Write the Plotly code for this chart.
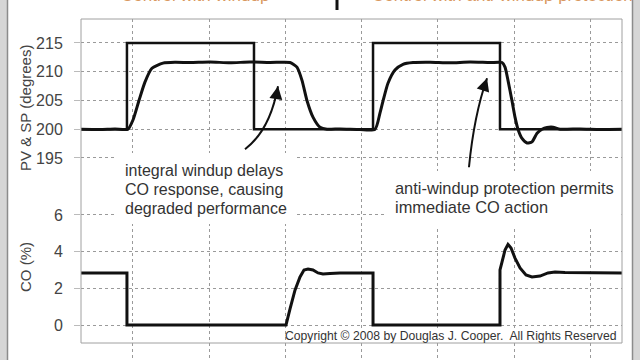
import plotly.graph_objects as go

# ---------------- data ----------------
sp_time = [3.18, 9.21, 25.88, 41.50, 58.16, 74.17]
sp_value = [200, 215, 200, 215, 200, 200]

pv_time = [3.18, 5.67, 7.64, 9.34, 10.00, 10.79, 11.57, 12.49, 13.94, 15.51, 17.48,
           20.10, 22.73, 25.35, 27.98, 29.55, 30.60, 31.52, 32.18, 32.83, 33.62,
           34.54, 35.46, 37.17, 39.79, 41.76, 42.41, 42.81, 43.46, 44.38, 45.43,
           46.75, 48.98, 51.60, 54.23, 56.85, 58.43, 58.82, 59.21, 59.74, 60.13,
           60.52, 61.05, 61.71, 62.36, 63.02, 63.67, 64.33, 65.12, 66.04, 68.66,
           71.29, 74.17]
pv_value = [200.0, 199.95, 200.05, 200.0, 201.6, 205.0, 208.2, 210.6, 211.5, 211.65, 211.6,
            211.7, 211.55, 211.7, 211.6, 211.65, 211.6, 210.8, 208.5, 205.0, 202.1,
            200.35, 200.0, 200.05, 199.95, 200.0, 202.8, 204.9, 208.0, 210.3, 211.3,
            211.6, 211.65, 211.55, 211.7, 211.6, 211.6, 210.8, 208.5, 204.9, 202.1,
            200.0, 198.4, 197.6, 197.8, 199.3, 200.0, 200.3, 200.35, 200.0, 200.05,
            199.95, 200.0]

co_time = [3.18, 9.21, 9.21, 30.08, 30.60, 31.26, 31.92, 32.44, 32.97, 33.62, 34.28,
           34.93, 35.85, 37.17, 41.50, 41.50, 58.16, 58.16, 58.43, 58.82, 59.21,
           59.61, 60.13, 60.79, 61.57, 62.36, 63.41, 64.46, 65.38, 66.69, 74.17]
co_value = [2.84, 2.84, 0.0, 0.0, 0.87, 1.9, 2.62, 3.0, 3.05, 3.0, 2.84,
            2.78, 2.81, 2.84, 2.84, 0.0, 0.0, 3.0, 3.44, 4.09, 4.4,
            4.2, 3.65, 3.11, 2.73, 2.62, 2.67, 2.84, 2.89, 2.86, 2.84]

pv_ticks = [195, 200, 205, 210, 215]
co_ticks = [0, 2, 4, 6]
time_grid = [10, 20, 30, 40, 50, 60, 70]

note_windup = ["integral windup delays", "CO response, causing", "degraded performance"]
note_anti = ["anti-windup protection permits", "immediate CO action"]
copyright_text = "Copyright \u00a9 2008 by Douglas J. Cooper.  All Rights Reserved"

# ---------------- layout geometry ----------------
W, H = 640, 360
ML, MR, MT, MB = 81, 18, 19, 0
PW = W - ML - MR
PH = H - MT - MB


def px_x(p):
    return (p - ML) / PW


def px_y(p):
    return (H - MB - p) / PH


FONT = "Arial, Liberation Sans, sans-serif"
INK = "#111111"
GRID = "#9a9a9a"

fig = go.Figure()
fig.add_trace(go.Scatter(x=sp_time, y=sp_value, mode="lines", line_shape="hv",
                         line=dict(color=INK, width=2.5), yaxis="y", showlegend=False))
fig.add_trace(go.Scatter(x=pv_time, y=pv_value, mode="lines", line_shape="spline",
                         line=dict(color=INK, width=3, smoothing=0.6), yaxis="y",
                         showlegend=False))
fig.add_trace(go.Scatter(x=co_time, y=co_value, mode="lines",
                         line=dict(color=INK, width=3), yaxis="y2", showlegend=False))

axis_common = dict(showline=False, zeroline=False, gridcolor=GRID, gridwidth=1,
                   griddash="dot", automargin=False)

fig.update_layout(
    width=W, height=H,
    margin=dict(l=ML, r=MR, t=MT, b=MB, pad=0, autoexpand=False),
    paper_bgcolor="white", plot_bgcolor="white",
    font=dict(family=FONT, color="#444"),
    hovermode=False,
    xaxis=dict(range=[3.18, 74.17], tickvals=time_grid, showticklabels=False,
               ticks="", **axis_common),
    yaxis=dict(range=[159.87, 219.17], tickvals=pv_ticks, ticks="outside", ticklen=6,
               tickcolor="#bbbbbb", ticklabelstandoff=8,
               tickfont=dict(size=16, color="#444"), **axis_common),
    yaxis2=dict(range=[-1.909, 16.69], tickvals=co_ticks, overlaying="y", side="left",
                ticks="outside", ticklen=6, tickcolor="#bbbbbb", ticklabelstandoff=8,
                tickfont=dict(size=16, color="#444"), **axis_common),
)

shapes = []
# white backgrounds behind the notes
for (x0, x1, y0, y1) in [(115, 296, 153, 224), (385, 621.5, 171, 226), (286, 621.5, 329, 342.5)]:
    shapes.append(dict(type="rect", xref="paper", yref="paper", x0=px_x(x0), x1=px_x(x1),
                       y0=px_y(y1), y1=px_y(y0), fillcolor="white", line=dict(width=0),
                       layer="above"))
# curved arrows
shapes.append(dict(type="path", xref="x", yref="y",
                   path="M 24.70,196.52 Q 27.98,199.83 29.03,207.48",
                   line=dict(color=INK, width=2)))
shapes.append(dict(type="path", xref="x", yref="y",
                   path="M 54.09,193.39 Q 54.75,202.43 56.46,208.87",
                   line=dict(color=INK, width=2)))
# plot box
shapes.append(dict(type="rect", xref="paper", yref="paper", x0=0, x1=1,
                   y0=px_y(343), y1=1, line=dict(color="#a0a0a0", width=1), layer="above"))
# photo frame edges
shapes.append(dict(type="rect", xref="paper", yref="paper", x0=px_x(0), x1=px_x(7),
                   y0=px_y(360), y1=px_y(0), fillcolor="#d6d6d6", line=dict(width=0)))
shapes.append(dict(type="line", xref="paper", yref="paper", x0=px_x(7.5), x1=px_x(7.5),
                   y0=px_y(360), y1=px_y(0), line=dict(color="#8c8c8c", width=1.5)))
shapes.append(dict(type="rect", xref="paper", yref="paper", x0=px_x(633), x1=px_x(640),
                   y0=px_y(360), y1=px_y(0), fillcolor="#d6d6d6", line=dict(width=0)))
shapes.append(dict(type="line", xref="paper", yref="paper", x0=px_x(632.5), x1=px_x(632.5),
                   y0=px_y(360), y1=px_y(0), line=dict(color="#8c8c8c", width=1.5)))
# dark bar at the top (cut off)
shapes.append(dict(type="line", xref="paper", yref="paper", x0=px_x(337), x1=px_x(337),
                   y0=px_y(10), y1=px_y(-2), line=dict(color=INK, width=3)))
fig.update_layout(shapes=shapes)

ann = []
for i, line in enumerate(note_windup):
    ann.append(dict(text=line, xref="paper", yref="paper", x=px_x(123),
                    y=px_y(170 + 19.3 * i), xanchor="left", yanchor="middle",
                    showarrow=False, font=dict(size=16, color="#333")))
for i, line in enumerate(note_anti):
    ann.append(dict(text=line, xref="paper", yref="paper", x=px_x(393),
                    y=px_y(188 + 19.3 * i), xanchor="left", yanchor="middle",
                    showarrow=False, font=dict(size=16.4, color="#333")))
ann.append(dict(text=copyright_text, xref="paper", yref="paper", x=px_x(618),
                y=px_y(336), xanchor="right", yanchor="middle", showarrow=False,
                font=dict(size=12.2, color="#333")))
# arrow heads
ann.append(dict(text="", xref="x", yref="y", x=29.03, y=207.48, ax=-2, ay=12,
                showarrow=True, arrowhead=2, arrowsize=1.3, arrowwidth=2, arrowcolor=INK))
ann.append(dict(text="", xref="x", yref="y", x=56.46, y=208.87, ax=-4, ay=12,
                showarrow=True, arrowhead=2, arrowsize=1.3, arrowwidth=2, arrowcolor=INK))
# axis titles
ann.append(dict(text="PV & SP (degrees)", xref="paper", yref="paper", x=px_x(25),
                y=px_y(108), xanchor="center", yanchor="middle", textangle=-90,
                showarrow=False, font=dict(size=15, color="#444")))
ann.append(dict(text="CO (%)", xref="paper", yref="paper", x=px_x(25), y=px_y(267),
                xanchor="center", yanchor="middle", textangle=-90, showarrow=False,
                font=dict(size=15, color="#444")))
# cut-off titles at the very top
ann.append(dict(text="Control with windup", xref="paper", yref="paper", x=px_x(119),
                y=px_y(-5), xanchor="left", yanchor="middle", showarrow=False,
                font=dict(size=17, color="#d9985f")))
ann.append(dict(text="Control with anti-windup protection", xref="paper", yref="paper",
                x=px_x(370), y=px_y(-5), xanchor="left", yanchor="middle", showarrow=False,
                font=dict(size=17, color="#d9985f")))
fig.update_layout(annotations=ann)

fig.write_html("out.html", config={"displayModeBar": False, "staticPlot": True},
               post_script="document.body.style.margin='0';")
